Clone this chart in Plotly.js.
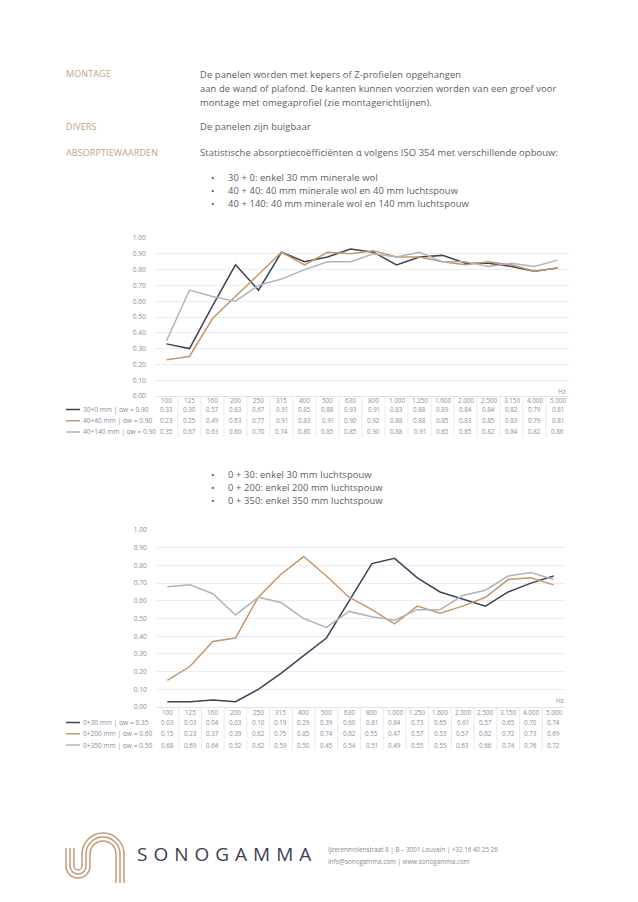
<!DOCTYPE html>
<html>
<head>
<meta charset="utf-8">
<script src="https://cdn.plot.ly/plotly-3.0.1.min.js"></script>
<style>
  html, body { margin:0; padding:0; background:#fff; }
  body { width:638px; height:902px; position:relative; overflow:hidden; font-family:"Open Sans", sans-serif; }
  .lbl { position:absolute; left:66px; font-size:9px; color:#c6a283; letter-spacing:0.1px; line-height:14px; }
  .txt { position:absolute; left:200px; font-size:9.4px; color:#5c5c63; line-height:14px; white-space:nowrap; letter-spacing:0.1px; }
  .bul { position:absolute; left:211px; font-size:9.4px; color:#5c5c63; line-height:13px; white-space:nowrap; letter-spacing:0.1px; }
  .bul span { display:inline-block; width:17px; }
  .chart { position:absolute; left:0; width:638px; }
  .brand { position:absolute; left:137px; top:842px; font-size:19px; letter-spacing:6px; color:#3d4052; line-height:24px; }
  .addr { position:absolute; left:328px; top:844px; font-size:6.3px; color:#8a8a95; line-height:12px; white-space:nowrap; }
</style>
</head>
<body>
<div class="lbl" style="top:67px">MONTAGE</div>
<div class="txt" style="top:68px">De panelen worden met kepers of Z-profielen opgehangen<br>aan de wand of plafond. De kanten kunnen voorzien worden van een groef voor<br>montage met omegaprofiel (zie montagerichtlijnen).</div>
<div class="lbl" style="top:120px">DIVERS</div>
<div class="txt" style="top:120px">De panelen zijn buigbaar</div>
<div class="lbl" style="top:146px">ABSORPTIEWAARDEN</div>
<div class="txt" style="top:146px">Statistische absorptiecoëfficiënten α volgens ISO 354 met verschillende opbouw:</div>
<div class="bul" style="top:171px"><span>•</span>30 + 0: enkel 30 mm minerale wol<br><span>•</span>40 + 40: 40 mm minerale wol en 40 mm luchtspouw<br><span>•</span>40 + 140: 40 mm minerale wol en 140 mm luchtspouw</div>

<div id="chart1" class="chart" style="top:225px;height:220px"></div>

<div class="bul" style="top:468px"><span>•</span>0 + 30: enkel 30 mm luchtspouw<br><span>•</span>0 + 200: enkel 200 mm luchtspouw<br><span>•</span>0 + 350: enkel 350 mm luchtspouw</div>

<div id="chart2" class="chart" style="top:515px;height:242px"></div>

<svg style="position:absolute;left:0;top:0" width="638" height="902">
  <g fill="none" stroke="#c49a74" stroke-width="1.5">
    <path d="M66 848 L66 866 A12 12 0 0 0 90 866 L90 854 A13 13 0 0 1 116 854 L116 883"/>
    <path d="M70 848 L70 866 A8 8 0 0 0 86 866 L86 854 A17 17 0 0 1 120 854 L120 883"/>
    <path d="M74 848 L74 866 A4 4 0 0 0 82 866 L82 854 A21 21 0 0 1 124 854 L124 883"/>
  </g>
</svg>
<div class="brand">SONOGAMMA</div>
<div class="addr">Ijzerenmolenstraat 8 | B – 3001 Louvain | +32 16 40 25 26<br>info@sonogamma.com | www.sonogamma.com</div>

<script>
// ---------- DATA ----------
const freqLabels = ['100','125','160','200','250','315','400','500','630','800','1.000','1.250','1.600','2.000','2.500','3.150','4.000','5.000'];

const chart1Names = ['30+0 mm | αw = 0.90', '40+40 mm | αw = 0.90', '40+140 mm | αw = 0.90'];
const s30_0    = [0.33,0.30,0.57,0.83,0.67,0.91,0.85,0.88,0.93,0.91,0.83,0.88,0.89,0.84,0.84,0.82,0.79,0.81];
const s40_40   = [0.23,0.25,0.49,0.63,0.77,0.91,0.83,0.91,0.90,0.92,0.88,0.88,0.85,0.83,0.85,0.83,0.79,0.81];
const s40_140  = [0.35,0.67,0.63,0.60,0.70,0.74,0.80,0.85,0.85,0.90,0.88,0.91,0.85,0.85,0.82,0.84,0.82,0.86];

const chart2Names = ['0+30 mm | αw = 0.35', '0+200 mm | αw = 0.60', '0+350 mm | αw = 0.50'];
const s0_30    = [0.03,0.03,0.04,0.03,0.10,0.19,0.29,0.39,0.60,0.81,0.84,0.73,0.65,0.61,0.57,0.65,0.70,0.74];
const s0_200   = [0.15,0.23,0.37,0.39,0.62,0.75,0.85,0.74,0.62,0.55,0.47,0.57,0.53,0.57,0.62,0.72,0.73,0.69];
const s0_350   = [0.68,0.69,0.64,0.52,0.62,0.59,0.50,0.45,0.54,0.51,0.49,0.55,0.55,0.63,0.66,0.74,0.76,0.72];

const yTicks = [0,0.1,0.2,0.3,0.4,0.5,0.6,0.7,0.8,0.9,1.0];
const colors = ['#3f4256', '#c4976d', '#b4b4b8'];
const txtColor = '#8c8c9c';
const FONT = '"Open Sans", sans-serif';

function drawChart(id, series, names, g) {
  const plotH = g.bottom - g.plotTop;
  const plotW = g.right - g.left;
  const py = Y => (g.bottom - Y) / plotH;
  const px = X => (X - g.left) / plotW;
  const xs = freqLabels.map((_, i) => i);

  const traces = series.map((s, k) => ({
    type: 'scatter', mode: 'lines', x: xs, y: s, name: names[k],
    line: { color: colors[k], width: 1.5 }, hoverinfo: 'skip', cliponaxis: false
  }));

  const ann = [];
  const shapes = [];
  freqLabels.forEach((c, i) => ann.push({ xref:'x', x:i, yref:'paper', y:py(g.headerY), text:c, showarrow:false,
    xanchor:'center', yanchor:'middle', font:{ size:6.3, color:txtColor, family:FONT } }));
  series.forEach((s, k) => {
    const Y = g.rowY[k];
    s.forEach((v, i) => ann.push({ xref:'x', x:i, yref:'paper', y:py(Y), text:v.toFixed(2), showarrow:false,
      xanchor:'center', yanchor:'middle', font:{ size:6.3, color:txtColor, family:FONT } }));
    ann.push({ xref:'paper', x:px(g.legTextX), yref:'paper', y:py(Y), text:names[k], showarrow:false,
      xanchor:'left', yanchor:'middle', font:{ size:6.6, color:txtColor, family:FONT } });
    shapes.push({ type:'line', xref:'paper', yref:'paper', x0:px(g.legLineX0), x1:px(g.legLineX1), y0:py(Y), y1:py(Y),
      line:{ color:colors[k], width:1.5 } });
  });
  for (let i = 0; i < freqLabels.length - 1; i++) {
    shapes.push({ type:'line', xref:'x', yref:'paper', x0:i+0.5, x1:i+0.5, y0:0, y1:py(g.tableBottom),
      line:{ color:'#e6e6ea', width:0.8 }, layer:'below' });
  }
  ann.push({ xref:'paper', x:px(g.hzX), yref:'paper', y:py(g.hzY), text:'Hz', showarrow:false,
    xanchor:'center', yanchor:'middle', font:{ size:6.3, color:txtColor, family:FONT } });

  const layout = {
    width: 638, height: g.height,
    margin: { l: g.left, r: 638 - g.right, t: g.plotTop - g.top, b: g.top + g.height - g.bottom, pad: 0 },
    paper_bgcolor: 'rgba(0,0,0,0)', plot_bgcolor: 'rgba(0,0,0,0)',
    showlegend: false,
    font: { family: FONT, color: txtColor },
    xaxis: { range: [-0.5, freqLabels.length - 0.5], showgrid:false, zeroline:false, showline:false,
             showticklabels:false, ticks:'', fixedrange:true },
    yaxis: { range: [0, 1], tickvals: yTicks, ticktext: yTicks.map(v => v.toFixed(2)),
             showgrid:true, gridcolor:'#ececf0', gridwidth:1, zeroline:true, zerolinecolor:'#e2e2e8', zerolinewidth:1,
             showline:false, ticks:'outside', ticklen:g.tickGap, tickcolor:'rgba(0,0,0,0)',
             tickfont:{ size:6.6, color:txtColor, family:FONT }, fixedrange:true },
    annotations: ann, shapes: shapes
  };
  Plotly.newPlot(id, traces, layout, { staticPlot: true, displayModeBar: false });
}

drawChart('chart1', [s30_0, s40_40, s40_140], chart1Names, {
  top:225, height:220, plotTop:238, bottom:396, left:155, right:569,
  headerY:400.5, rowY:[409.5, 420.8, 432], tableBottom:437,
  legLineX0:66, legLineX1:80, legTextX:81, hzX:562, hzY:391, tickGap:7
});

drawChart('chart2', [s0_30, s0_200, s0_350], chart2Names, {
  top:515, height:242, plotTop:530, bottom:707, left:156, right:565,
  headerY:712.5, rowY:[722.5, 733.8, 745], tableBottom:750,
  legLineX0:66, legLineX1:80, legTextX:81, hzX:560, hzY:700, tickGap:7
});
</script>
</body>
</html>
